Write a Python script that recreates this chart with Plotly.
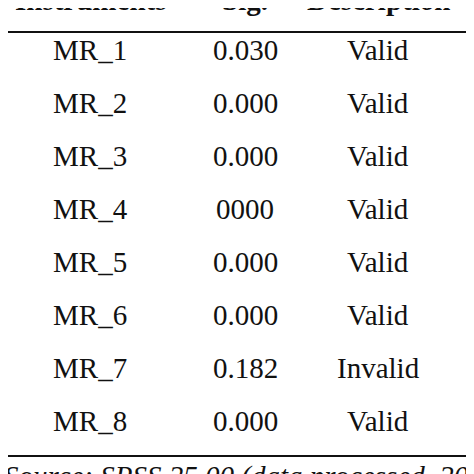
import plotly.graph_objects as go

headers = ["Instruments", "Sig.", "Description"]
instruments = ["MR_1", "MR_2", "MR_3", "MR_4", "MR_5", "MR_6", "MR_7", "MR_8"]
sig = ["0.030", "0.000", "0.000", "0000", "0.000", "0.000", "0.182", "0.000"]
desc = ["Valid", "Valid", "Valid", "Valid", "Valid", "Valid", "Invalid", "Valid"]
footer = "Source: SPSS 25.00 (data processed, 2018)"

W = H = 474
OFF = 8  # page body offset
col_x = [90, 245, 378]
row_y0, row_dy = 50, 53.0
font = dict(family="Liberation Serif", size=29, color="#111")

def px(x):
    return (x - OFF) / W

def py(y):
    return 1 - (y - OFF) / H

ann = []
for x, h in zip(col_x, headers):
    ann.append(dict(x=px(x), y=py(0), text=f"<b>{h}</b>", showarrow=False,
                    xref="paper", yref="paper", xanchor="center", yanchor="middle", font=font))
for i, (a, b, c) in enumerate(zip(instruments, sig, desc)):
    y = py(row_y0 + i * row_dy)
    for x, t in zip(col_x, (a, b, c)):
        ann.append(dict(x=px(x), y=y, text=t, showarrow=False, xref="paper", yref="paper",
                        xanchor="center", yanchor="middle", font=font))
ann.append(dict(x=px(2), y=py(476), text=f"<i>{footer}</i>", showarrow=False, xref="paper",
                yref="paper", xanchor="left", yanchor="middle", font=font))

shapes = [dict(type="line", xref="paper", yref="paper", x0=-0.05, x1=1.05, y0=py(y), y1=py(y),
               line=dict(color="#111", width=2)) for y in (32, 456)]

fig = go.Figure()
fig.update_layout(width=W, height=H, margin=dict(l=0, r=0, t=0, b=0),
                  paper_bgcolor="white", plot_bgcolor="white",
                  xaxis=dict(visible=False), yaxis=dict(visible=False),
                  annotations=ann, shapes=shapes, showlegend=False)
fig.write_html("out.html")
